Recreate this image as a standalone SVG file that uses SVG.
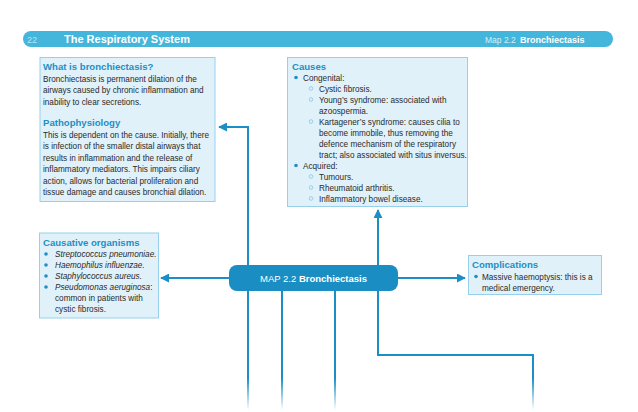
<svg xmlns="http://www.w3.org/2000/svg" width="638" height="412" viewBox="0 0 638 412">
<defs>
<style>
.box{fill:#e1f1f9;stroke:#96d0ea;stroke-width:1}
.h{font-family:"Liberation Sans",Arial,sans-serif;font-weight:bold;font-size:9.6px;fill:#1d8fc6}
.t{font-family:"Liberation Sans",Arial,sans-serif;font-size:8.2px;fill:#2a2a2a}
.i{font-style:italic}
.c{stroke:#1b8fc5;stroke-width:2;fill:none}
.b{fill:#1d8fc6}
.s{fill:none;stroke:#8ccbe6;stroke-width:0.9}
</style>
<marker id="ah" viewBox="0 0 10 10" refX="9" refY="5" markerWidth="4.5" markerHeight="4.5" orient="auto" markerUnits="strokeWidth">
<path d="M0,0 L10,5 L0,10 Z" fill="#1b8fc5"/>
</marker>
<linearGradient id="fade" gradientUnits="userSpaceOnUse" x1="0" y1="378" x2="0" y2="410">
<stop offset="0" stop-color="#1b8fc5" stop-opacity="1"/>
<stop offset="1" stop-color="#1b8fc5" stop-opacity="0"/>
</linearGradient>
</defs>
<rect width="638" height="412" fill="#ffffff"/>

<g id="header">
<rect x="23" y="31" width="590" height="16" rx="8" fill="#44b6dc"/>
<text x="27" y="42.5" font-family="Liberation Sans,Arial,sans-serif" font-size="9" fill="#b7e3f3">22</text>
<text x="64" y="43" font-family="Liberation Sans,Arial,sans-serif" font-size="11" font-weight="bold" fill="#ffffff">The Respiratory System</text>
<text x="485" y="42.5" font-family="Liberation Sans,Arial,sans-serif" font-size="8.5" fill="#d5eff8">Map 2.2 <tspan fill="#ffffff" font-size="9" font-weight="bold" dx="2">Bronchiectasis</tspan></text>
</g>

<g id="connectors">
<path class="c" d="M248,266 V127 H219" marker-end="url(#ah)"/>
<path class="c" d="M229,278 H161" marker-end="url(#ah)"/>
<path class="c" d="M378,266 V210" marker-end="url(#ah)"/>
<path class="c" d="M398,278 H465" marker-end="url(#ah)"/>
<path d="M248,290 V410" stroke="url(#fade)" stroke-width="2" fill="none"/>
<path d="M282,290 V410" stroke="url(#fade)" stroke-width="2" fill="none"/>
<path d="M335,290 V410" stroke="url(#fade)" stroke-width="2" fill="none"/>
<path class="c" d="M378,290 V355 H533 V378"/>
<path d="M533,377 V410" stroke="url(#fade)" stroke-width="2" fill="none"/>
</g>

<g id="what-is">
<rect class="box" x="40" y="57.5" width="175" height="144"/>
<text class="h" x="43" y="70">What is bronchiectasis?</text>
<text class="t" x="43" y="81.5">Bronchiectasis is permanent dilation of the</text>
<text class="t" x="43" y="93">airways caused by chronic inflammation and</text>
<text class="t" x="43" y="104.5">inability to clear secretions.</text>
<text class="h" x="43" y="126">Pathophysiology</text>
<text class="t" x="43" y="137.5">This is dependent on the cause. Initially, there</text>
<text class="t" x="43" y="149">is infection of the smaller distal airways that</text>
<text class="t" x="43" y="160.5">results in inflammation and the release of</text>
<text class="t" x="43" y="172">inflammatory mediators. This impairs ciliary</text>
<text class="t" x="43" y="183.5">action, allows for bacterial proliferation and</text>
<text class="t" x="43" y="195">tissue damage and causes bronchial dilation.</text>
</g>

<g id="causes">
<rect class="box" x="287.5" y="57.5" width="180" height="149"/>
<text class="h" x="292" y="70">Causes</text>
<circle class="b" cx="296" cy="77.5" r="1.8"/>
<text class="t" x="303" y="80.5">Congenital:</text>
<circle class="s" cx="311" cy="88.5" r="1.8"/>
<text class="t" x="319" y="91.5">Cystic fibrosis.</text>
<circle class="s" cx="311" cy="99.5" r="1.8"/>
<text class="t" x="319" y="102.5">Young’s syndrome: associated with</text>
<text class="t" x="319" y="113.5">azoospermia.</text>
<circle class="s" cx="311" cy="121.5" r="1.8"/>
<text class="t" x="319" y="124.5">Kartagener’s syndrome: causes cilia to</text>
<text class="t" x="319" y="135.5">become immobile, thus removing the</text>
<text class="t" x="319" y="146.5">defence mechanism of the respiratory</text>
<text class="t" x="319" y="157.5">tract; also associated with situs inversus.</text>
<circle class="b" cx="296" cy="165.5" r="1.8"/>
<text class="t" x="303" y="168.5">Acquired:</text>
<circle class="s" cx="311" cy="176.5" r="1.8"/>
<text class="t" x="319" y="179.5">Tumours.</text>
<circle class="s" cx="311" cy="187.5" r="1.8"/>
<text class="t" x="319" y="190.5">Rheumatoid arthritis.</text>
<circle class="s" cx="311" cy="198.5" r="1.8"/>
<text class="t" x="319" y="201.5">Inflammatory bowel disease.</text>
</g>

<g id="causative-organisms">
<rect class="box" x="39.5" y="233" width="119" height="85"/>
<text class="h" x="43" y="245.5">Causative organisms</text>
<circle class="b" cx="46" cy="254" r="1.8"/>
<text class="t i" x="55" y="257">Streptococcus pneumoniae.</text>
<circle class="b" cx="46" cy="265" r="1.8"/>
<text class="t i" x="55" y="268">Haemophilus influenzae.</text>
<circle class="b" cx="46" cy="276" r="1.8"/>
<text class="t i" x="55" y="279">Staphylococcus aureus.</text>
<circle class="b" cx="46" cy="287" r="1.8"/>
<text class="t" x="55" y="290"><tspan class="i">Pseudomonas aeruginosa</tspan>:</text>
<text class="t" x="55" y="301">common in patients with</text>
<text class="t" x="55" y="312">cystic fibrosis.</text>
</g>

<g id="central">
<rect x="229" y="265" width="169" height="26" rx="8" fill="#1a8dc3"/>
<text x="313.5" y="281.5" text-anchor="middle" font-family="Liberation Sans,Arial,sans-serif" font-size="9.5" fill="#ffffff">MAP 2.2 <tspan font-weight="bold">Bronchiectasis</tspan></text>
</g>

<g id="complications">
<rect class="box" x="468.5" y="255.5" width="133" height="39"/>
<text class="h" x="472" y="268">Complications</text>
<circle class="b" cx="476" cy="276.5" r="1.8"/>
<text class="t" x="482" y="279.5">Massive haemoptysis: this is a</text>
<text class="t" x="482" y="290.5">medical emergency.</text>
</g>
</svg>
